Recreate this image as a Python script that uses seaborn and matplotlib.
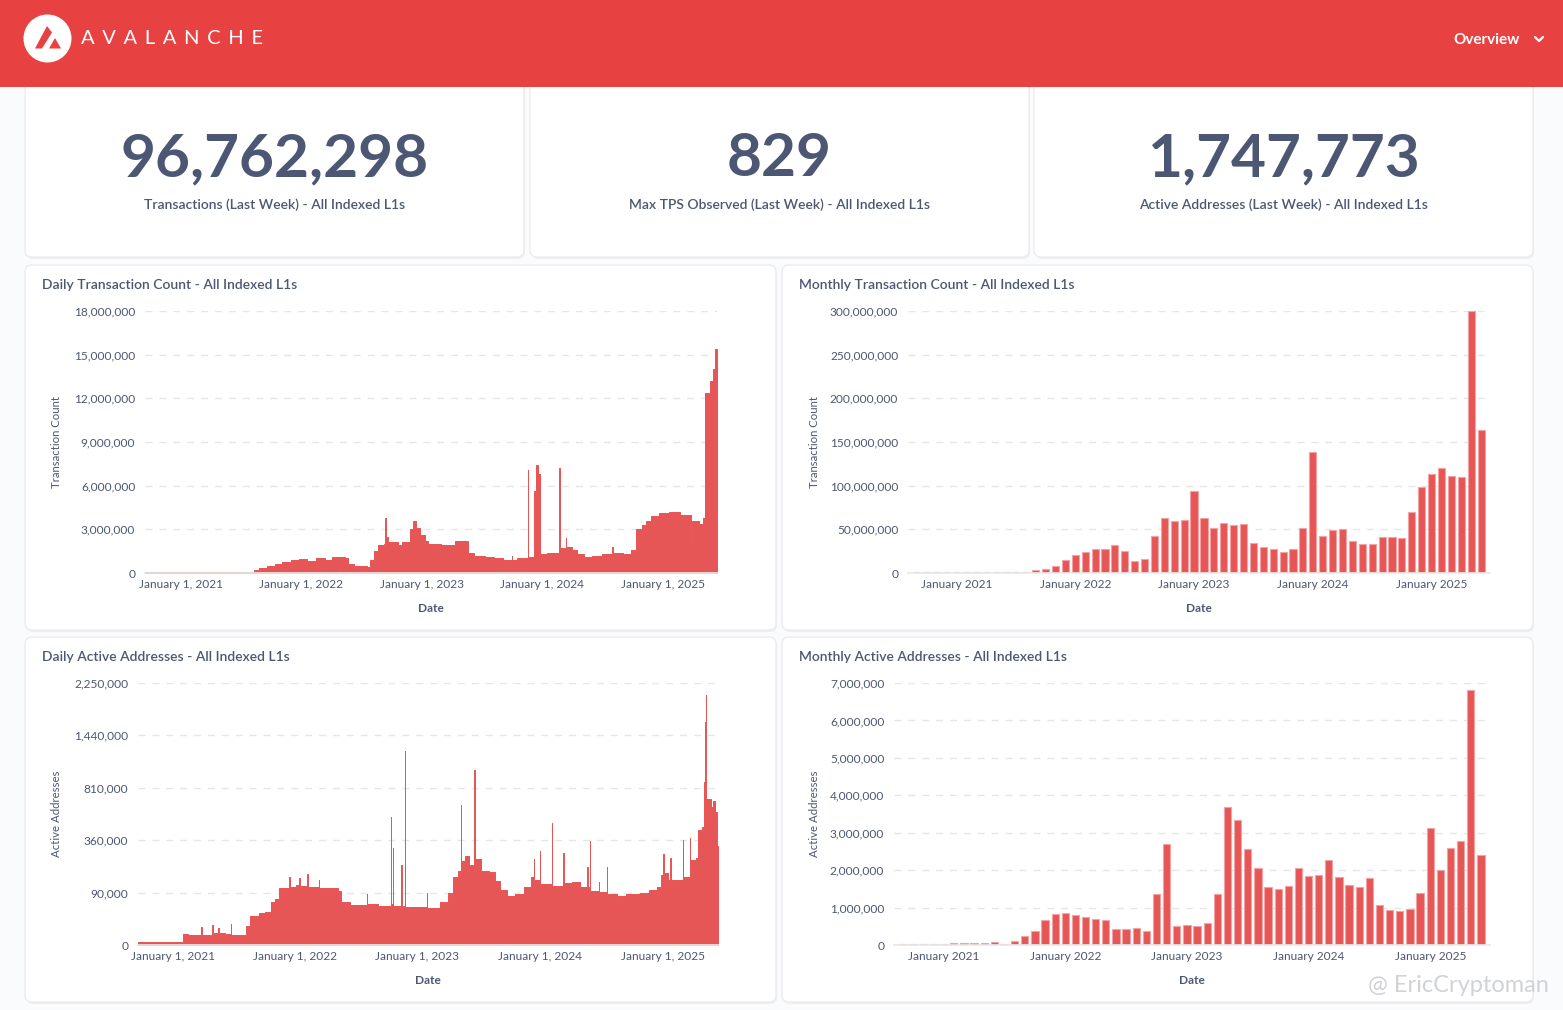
import numpy as np
import pandas as pd
import matplotlib
matplotlib.use("Agg")
import matplotlib.pyplot as plt
import matplotlib.dates as mdates
from matplotlib.patches import FancyBboxPatch, Rectangle, Circle, Polygon
from matplotlib.ticker import FuncFormatter, FixedLocator
import seaborn as sns

# ---------------- DATA ----------------
kpi_values = ["96,762,298", "829", "1,747,773"]
kpi_labels = ["Transactions (Last Week) - All Indexed L1s",
              "Max TPS Observed (Last Week) - All Indexed L1s",
              "Active Addresses (Last Week) - All Indexed L1s"]

months = pd.date_range("2020-09-01", periods=58, freq="MS")
monthly_tx_m = [1, 1, 1, 1, 1, 1, 1, 1, 1, 1, 1, 1,
                3, 5, 8, 15, 21, 24, 28, 27, 32, 25, 14, 16,
                42, 63, 60, 61, 94, 63, 51, 57, 55, 56, 34, 30,
                28, 24, 28, 51, 138, 42, 49, 50, 37, 33, 33, 41,
                41, 40, 70, 99, 113, 120, 111, 110, 300, 164]
monthly_aa_m = [0.03, 0.03, 0.03, 0.03, 0.035, 0.045, 0.045, 0.045, 0.06, 0.07, 0.035, 0.10,
                0.23, 0.37, 0.68, 0.82, 0.86, 0.81, 0.74, 0.70, 0.67, 0.43, 0.43, 0.45,
                0.37, 1.36, 2.69, 0.52, 0.54, 0.50, 0.60, 1.37, 3.68, 3.34, 2.57, 2.05,
                1.54, 1.49, 1.57, 2.06, 1.85, 1.88, 2.27, 1.82, 1.61, 1.54, 1.78, 1.08,
                0.93, 0.91, 0.96, 1.38, 3.12, 2.00, 2.58, 2.77, 6.80, 2.40]

month_tick_pos = [4, 16, 28, 40, 52]
month_tick_labels = ["January 2021", "January 2022", "January 2023", "January 2024", "January 2025"]
day_tick_dates = ["2021-01-01", "2022-01-01", "2023-01-01", "2024-01-01", "2025-01-01"]
day_tick_labels = ["January 1, 2021", "January 1, 2022", "January 1, 2023",
                   "January 1, 2024", "January 1, 2025"]

tx_dates = ["2020-09-15", "2021-08-10", "2021-08-25", "2021-09-20", "2021-10-15", "2021-11-05",
            "2021-12-01", "2021-12-25", "2022-01-20", "2022-02-15", "2022-03-15", "2022-04-05",
            "2022-05-15", "2022-05-22", "2022-06-10", "2022-07-01", "2022-07-18", "2022-07-28",
            "2022-08-08", "2022-08-22", "2022-09-10", "2022-09-13", "2022-09-15", "2022-09-20",
            "2022-10-20", "2022-11-01", "2022-11-25", "2022-12-05", "2022-12-15", "2022-12-28",
            "2023-01-10", "2023-01-20", "2023-03-01", "2023-04-12", "2023-05-20", "2023-06-07",
            "2023-07-10", "2023-08-07", "2023-09-05", "2023-09-30", "2023-10-02", "2023-10-15",
            "2023-11-18", "2023-11-20", "2023-12-06", "2023-12-13", "2023-12-19", "2023-12-25",
            "2024-01-15", "2024-02-21", "2024-02-23", "2024-03-12", "2024-03-14", "2024-04-01",
            "2024-04-15", "2024-05-05", "2024-06-01", "2024-07-01", "2024-07-30", "2024-08-03",
            "2024-09-01", "2024-09-25", "2024-10-12", "2024-10-28", "2024-11-10", "2024-11-25",
            "2024-12-20", "2025-01-20", "2025-02-20", "2025-03-26", "2025-03-28", "2025-04-20",
            "2025-05-01", "2025-05-09", "2025-05-22", "2025-06-01", "2025-06-08", "2025-06-12",
            "2025-06-13"]
tx_vals_m = [0.08, 0.2, 0.35, 0.5, 0.65, 0.75,
             0.9, 0.95, 0.85, 1.0, 0.9, 1.1,
             1.05, 0.6, 0.5, 0.45, 0.4, 0.9,
             1.5, 1.9, 2.0, 3.8, 2.5, 2.1,
             1.9, 2.1, 3.0, 3.6, 3.1, 2.6,
             2.2, 2.0, 1.9, 2.2, 1.4, 1.2,
             1.1, 1.0, 0.9, 1.2, 0.9, 1.0,
             7.1, 1.1, 5.6, 7.4, 6.8, 1.3,
             1.35, 7.2, 1.7, 2.4, 1.8, 1.6,
             1.3, 1.1, 1.2, 1.3, 1.8, 1.4,
             1.3, 1.6, 3.0, 3.3, 3.6, 3.9,
             4.1, 4.2, 4.0, 2.2, 3.6, 3.4,
             3.8, 12.4, 13.2, 14.0, 15.4, 8.2,
             8.2]

aa_dates = ["2020-09-20", "2021-02-01", "2021-02-15", "2021-03-27", "2021-03-29", "2021-04-30",
            "2021-05-02", "2021-05-16", "2021-05-18", "2021-06-05", "2021-06-23", "2021-06-25",
            "2021-07-20", "2021-08-08", "2021-08-20", "2021-09-15", "2021-10-05", "2021-10-20",
            "2021-11-02", "2021-11-14", "2021-12-14", "2021-12-16", "2022-01-04", "2022-01-14",
            "2022-01-16", "2022-02-07", "2022-02-09", "2022-03-13", "2022-03-15", "2022-04-10",
            "2022-05-08", "2022-05-17", "2022-06-15", "2022-08-03", "2022-08-05", "2022-09-05",
            "2022-10-13", "2022-10-14", "2022-10-19", "2022-10-20", "2022-11-14", "2022-11-15",
            "2022-11-24", "2022-11-25", "2023-01-29", "2023-01-30", "2023-03-10", "2023-04-01",
            "2023-04-18", "2023-05-02", "2023-05-10", "2023-05-11", "2023-05-24", "2023-06-05",
            "2023-06-20", "2023-06-21", "2023-07-10", "2023-08-01", "2023-08-20", "2023-09-04",
            "2023-09-24", "2023-10-20", "2023-11-15", "2023-12-05", "2023-12-14", "2023-12-15",
            "2023-12-31", "2024-01-01", "2024-02-05", "2024-02-06", "2024-03-11", "2024-03-12",
            "2024-04-05", "2024-05-01", "2024-05-21", "2024-05-22", "2024-05-28", "2024-05-29",
            "2024-06-25", "2024-06-26", "2024-07-19", "2024-07-20", "2024-08-18", "2024-09-15",
            "2024-10-25", "2024-11-22", "2024-12-15", "2024-12-26", "2025-01-03", "2025-01-04",
            "2025-01-18", "2025-01-24", "2025-01-25", "2025-03-03", "2025-03-04", "2025-03-23",
            "2025-03-24", "2025-04-10", "2025-04-15", "2025-04-28", "2025-05-03", "2025-05-07",
            "2025-05-09", "2025-05-10", "2025-05-25", "2025-05-31", "2025-06-07", "2025-06-12",
            "2025-06-15"]
aa_vals = [250, 4000, 3000, 10900, 3200, 12500,
           4500, 9000, 4500, 3800, 15000, 3200,
           3000, 12000, 28000, 33000, 36000, 60000,
           70000, 105000, 150000, 110000, 118000, 145000,
           115000, 165000, 112000, 140000, 108000, 105000,
           95000, 62000, 52000, 85000, 55000, 50000,
           540000, 55000, 310000, 50000, 210000, 50000,
           1230000, 48000, 88000, 46000, 60000, 90000,
           150000, 180000, 640000, 230000, 260000, 210000,
           1000000, 240000, 180000, 175000, 135000, 100000,
           80000, 85000, 110000, 150000, 240000, 140000,
           290000, 120000, 490000, 115000, 280000, 125000,
           130000, 110000, 200000, 110000, 355000, 95000,
           130000, 92000, 200000, 85000, 80000, 85000,
           90000, 100000, 110000, 160000, 270000, 170000,
           140000, 250000, 140000, 360000, 150000, 375000,
           235000, 250000, 430000, 460000, 870000, 1630000,
           2050000, 700000, 620000, 680000, 580000, 320000,
           320000]

# ---------------- STYLE ----------------
sns.set_theme(style="white")
plt.rcParams["font.family"] = ["Lato", "DejaVu Sans"]

RED = "#E84142"
BAR = "#E65656"
BAR_EDGE = "#F2A3A3"
TXT = "#4C5773"
GRID = "#E6E6E6"

W, H = 1563, 1010
fig = plt.figure(figsize=(W / 100, H / 100), dpi=100)
fig.patch.set_facecolor("#FAFBFC")

bg = fig.add_axes([0, 0, 1, 1], zorder=0)
bg.set_xlim(0, W)
bg.set_ylim(H, 0)
bg.axis("off")


def card(x0, y0, x1, y1):
    bg.add_patch(FancyBboxPatch((x0 + 1, y0 + 2), x1 - x0, y1 - y0,
                                boxstyle="round,pad=0,rounding_size=7",
                                fc="#EFEFF1", ec="none"))
    bg.add_patch(FancyBboxPatch((x0, y0), x1 - x0, y1 - y0,
                                boxstyle="round,pad=0,rounding_size=7",
                                fc="white", ec="#ECECEE", lw=1))


# KPI cards
kpi_boxes = [(25, 524), (530, 1029), (1034, 1533)]
for (x0, x1), v, lab in zip(kpi_boxes, kpi_values, kpi_labels):
    card(x0, 60, x1, 257)
    cx = (x0 + x1) / 2
    bg.text(cx, 159, v, ha="center", va="center", fontsize=43.5, color=TXT, weight="bold")
    bg.text(cx, 205, lab, ha="center", va="center", fontsize=10, color=TXT, weight="semibold")

# chart cards
card(25, 265, 776, 630)
card(782, 265, 1533, 630)
card(25, 637, 776, 1002)
card(782, 637, 1533, 1002)

# header
bg.add_patch(Rectangle((0, 0), W, 87, fc=RED, ec="none", zorder=5))
bg.add_patch(Circle((47.5, 38.5), 24, fc="white", ec="none", zorder=6))
bg.add_patch(Polygon([(35, 48.5), (47, 26), (52, 32.5), (42, 48.5)], closed=True, fc=RED, ec="none", zorder=7))
bg.add_patch(Polygon([(49, 48.5), (55, 38), (61, 48.5)], closed=True, fc=RED, ec="none", zorder=7))
bg.text(81, 39, " \u2009".join("AVALANCHE"), ha="left", va="center", fontsize=14.5,
        color="white", zorder=7)
bg.text(1453, 40, "Overview", ha="left", va="center", fontsize=11, color="white", weight="bold", zorder=7)
bg.plot([1535, 1539, 1543], [37, 41, 37], color="white", lw=1.6, zorder=7, solid_capstyle="round")

# chart titles
titles = [(42, 285, "Daily Transaction Count - All Indexed L1s"),
          (799, 285, "Monthly Transaction Count - All Indexed L1s"),
          (42, 657, "Daily Active Addresses - All Indexed L1s"),
          (799, 657, "Monthly Active Addresses - All Indexed L1s")]
for x, y, t in titles:
    bg.text(x, y, t, ha="left", va="center", fontsize=10, color=TXT, weight="semibold")

bg.text(1458, 986, "@ EricCryptoman", ha="center", va="center", fontsize=17,
        color="#C9CBCF", alpha=0.85, zorder=8)


def px_axes(x0, y0, x1, y1):
    ax = fig.add_axes([x0 / W, 1 - y1 / H, (x1 - x0) / W, (y1 - y0) / H], zorder=2)
    ax.set_facecolor("none")
    return ax


def style(ax, yticks, ylabel, box, ylab_x, date_xy):
    x0, y0, x1, y1 = box
    for s in ["top", "right", "left"]:
        ax.spines[s].set_visible(False)
    ax.spines["bottom"].set_color("#E8E8E8")
    ax.yaxis.set_major_locator(FixedLocator(yticks))
    ax.yaxis.set_major_formatter(FuncFormatter(lambda v, p: f"{v:,.0f}"))
    ax.grid(axis="y", color=GRID, lw=1, linestyle=(0, (5, 5)))
    ax.grid(axis="x", visible=False)
    ax.set_axisbelow(True)
    ax.tick_params(axis="both", length=0, labelsize=8.6, colors=TXT)
    ax.tick_params(axis="y", pad=7)
    ax.tick_params(axis="x", pad=4)
    ax.set_ylabel(ylabel, fontsize=8.2, color=TXT)
    ax.yaxis.set_label_coords((ylab_x - x0) / (x1 - x0), 0.5)
    ax.set_xlabel("Date", fontsize=8.6, color=TXT, weight="bold")
    ax.xaxis.set_label_coords((date_xy[0] - x0) / (x1 - x0), (y1 - date_xy[1]) / (y1 - y0))
    ax.xaxis.label.set_va("center")
    ax.yaxis.label.set_va("center")


# ---- Daily transactions ----
box = (145, 311, 717, 573)
ax1 = px_axes(*box)
d = pd.to_datetime(tx_dates)
v = np.array(tx_vals_m) * 1e6
ax1.fill_between(d, v, step="post", color=BAR, lw=0.7, edgecolor=BAR)
ax1.set_xlim(pd.Timestamp("2020-09-15"), pd.Timestamp("2025-06-13"))
ax1.set_ylim(0, 18e6)
ax1.xaxis.set_major_locator(FixedLocator(mdates.date2num(pd.to_datetime(day_tick_dates))))
ax1.set_xticklabels(day_tick_labels)
style(ax1, np.arange(0, 18e6 + 1, 3e6), "Transaction Count", box, 57, (431, 609))

# ---- Monthly transactions ----
box = (908, 311, 1490, 573)
ax2 = px_axes(*box)
df_tx = pd.DataFrame({"month": months.strftime("%Y-%m"), "value": np.array(monthly_tx_m) * 1e6})
sns.barplot(data=df_tx, x="month", y="value", color=BAR, saturation=1, width=0.72,
            edgecolor=BAR_EDGE, linewidth=0.8, ax=ax2)
ax2.set_xlim(-0.9, 57.9)
ax2.set_ylim(0, 300e6)
ax2.xaxis.set_major_locator(FixedLocator(month_tick_pos))
ax2.set_xticklabels(month_tick_labels)
style(ax2, np.arange(0, 300e6 + 1, 50e6), "Transaction Count", box, 814, (1199, 609))

# ---- Daily active addresses ----
box = (138, 683, 718, 945)
ax3 = px_axes(*box)
ax3.set_yscale("function", functions=(lambda x: np.sqrt(np.clip(x, 0, None)), lambda x: np.square(x)))
d = pd.to_datetime(aa_dates)
ax3.fill_between(d, np.array(aa_vals, dtype=float), step="post", color=BAR, lw=0.7, edgecolor=BAR)
ax3.set_xlim(pd.Timestamp("2020-09-20"), pd.Timestamp("2025-06-15"))
ax3.set_ylim(0, 2.25e6)
ax3.xaxis.set_major_locator(FixedLocator(mdates.date2num(pd.to_datetime(day_tick_dates))))
ax3.set_xticklabels(day_tick_labels)
style(ax3, [0, 90000, 360000, 810000, 1440000, 2250000], "Active Addresses", box, 57, (428, 981))
ax3.yaxis.set_minor_locator(FixedLocator([]))

# ---- Monthly active addresses ----
box = (894, 683, 1490, 945)
ax4 = px_axes(*box)
df_aa = pd.DataFrame({"month": months.strftime("%Y-%m"), "value": np.array(monthly_aa_m) * 1e6})
sns.barplot(data=df_aa, x="month", y="value", color=BAR, saturation=1, width=0.72,
            edgecolor=BAR_EDGE, linewidth=0.8, ax=ax4)
ax4.set_xlim(-0.9, 57.9)
ax4.set_ylim(0, 7e6)
ax4.xaxis.set_major_locator(FixedLocator(month_tick_pos))
ax4.set_xticklabels(month_tick_labels)
style(ax4, np.arange(0, 7e6 + 1, 1e6), "Active Addresses", box, 814, (1192, 981))

fig.savefig("out.png", dpi=100, facecolor=fig.get_facecolor())
